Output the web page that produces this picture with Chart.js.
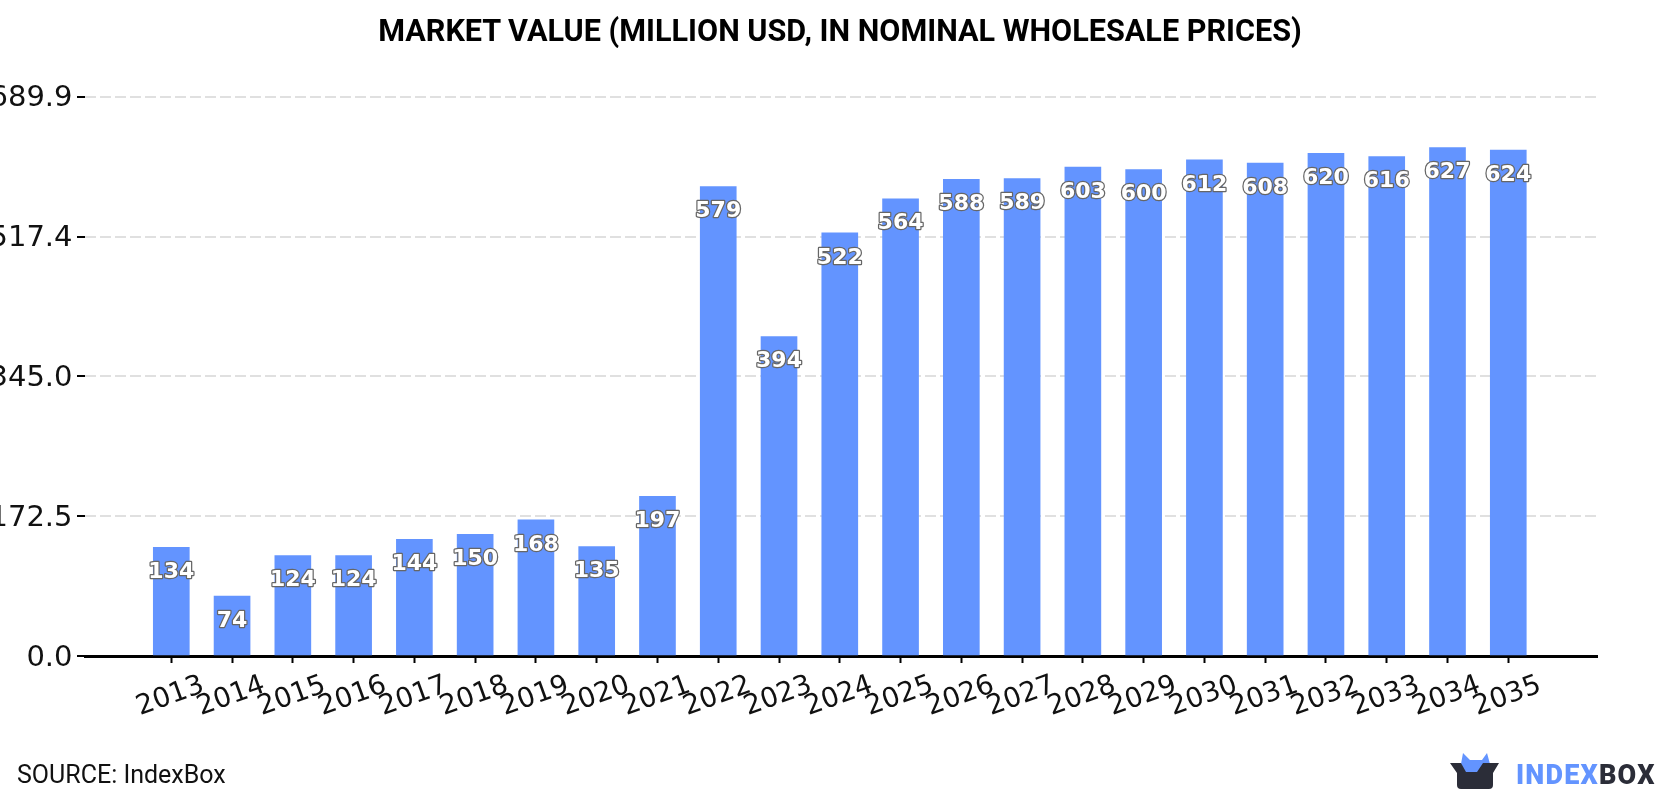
<!DOCTYPE html>
<html>
<head>
<meta charset="utf-8">
<title>Market value</title>
<script src="https://cdn.jsdelivr.net/npm/chart.js@4"></script>
<style>
    html, body { margin: 0; padding: 0; background: #fff; }
    #wrap { position: relative; width: 1680px; height: 800px; overflow: hidden; }
    #title { position: absolute; left: 0; width: 1680px; top: 13px; text-align: center; font: bold 30.6px Roboto, sans-serif; color: #000; }
    #source { position: absolute; left: 17px; top: 760px; font: 25px Roboto, sans-serif; color: #111; }
    #brand { position: absolute; left: 1449px; top: 752px; }
    #brandText { position: absolute; left: 1516px; top: 759px; font: 900 27px Roboto, sans-serif; letter-spacing: 1.2px; color: #6394ff; }
    #brandText span { color: #2b2d38; }
</style>
</head>
<body>
<div id="wrap">
    <canvas id="marketChart" width="1680" height="800"></canvas>
    <div id="title">MARKET VALUE (MILLION USD, IN NOMINAL WHOLESALE PRICES)</div>
    <div id="source">SOURCE: IndexBox</div>
    <svg id="brand" width="52" height="40" viewBox="0 0 52 40">
        <path d="M12 12 L14 1 L21 8 L33 8 L38 1 L41 12 L36 20 L16 20 Z" fill="#6394ff"/>
        <path d="M1 11 L12 11 L17 20 L28 20 L34 11 L50 11 L44 21 L44 33 Q44 37 40 37 L12 37 Q8 37 8 33 L8 21 Z" fill="#2b2d38"/>
    </svg>
    <div id="brandText">INDEX<span>BOX</span></div>
</div>
<script>
const years = [2013, 2014, 2015, 2016, 2017, 2018, 2019, 2020, 2021, 2022, 2023, 2024,
    2025, 2026, 2027, 2028, 2029, 2030, 2031, 2032, 2033, 2034, 2035];
const marketValues = [134, 74, 124, 124, 144, 150, 168, 135, 197, 579, 394, 522,
    564, 588, 589, 603, 600, 612, 608, 620, 616, 627, 624];
const yTicks = [0, 172.5, 345.0, 517.4, 689.9];

// value labels sit a little under the top of each bar
const valueLabels = {
    id: 'valueLabels',
    afterDatasetsDraw(chart) {
        const ctx = chart.ctx;
        const bars = chart.getDatasetMeta(0).data;
        ctx.save();
        ctx.font = 'bold 22px "DejaVu Sans"';
        ctx.textAlign = 'center';
        ctx.textBaseline = 'middle';
        ctx.lineJoin = 'round';
        bars.forEach((bar, i) => {
            const text = String(marketValues[i]);
            ctx.lineWidth = 2.5;
            ctx.strokeStyle = '#666';
            ctx.strokeText(text, bar.x, bar.y + 25);
            ctx.fillStyle = '#fff';
            ctx.fillText(text, bar.x, bar.y + 25);
        });
        ctx.restore();
    }
};

new Chart(document.getElementById('marketChart'), {
    type: 'bar',
    data: {
        datasets: [{
            data: years.map((y, i) => ({ x: y, y: marketValues[i] })),
            backgroundColor: '#6394ff',
            barThickness: 36
        }]
    },
    options: {
        responsive: false,
        animation: false,
        layout: { padding: { top: 96.7, right: 83 } },
        plugins: {
            legend: { display: false },
            tooltip: { enabled: false }
        },
        scales: {
            x: {
                type: 'linear',
                offset: false,
                min: 2011.58,
                max: 2036.46,
                afterBuildTicks(axis) {
                    axis.ticks = years.map(y => ({ value: y }));
                },
                afterFit(axis) {
                    axis.height = 144;
                },
                grid: {
                    offset: false,
                    drawOnChartArea: false,
                    tickLength: 7,
                    tickColor: '#000',
                    tickWidth: 2
                },
                border: { color: '#000', width: 3 },
                ticks: {
                    autoSkip: false,
                    minRotation: 20,
                    maxRotation: 20,
                    labelOffset: 32,
                    color: '#111',
                    padding: 6,
                    font: { family: 'DejaVu Sans', size: 27.5 },
                    callback: v => String(v)
                }
            },
            y: {
                min: 0,
                max: 689.9,
                afterBuildTicks(axis) {
                    axis.ticks = yTicks.map(v => ({ value: v }));
                },
                afterFit(axis) {
                    axis.width = 85;
                },
                grid: {
                    color: '#e0e0e0',
                    lineWidth: 2,
                    tickLength: 8,
                    tickColor: '#000',
                    tickWidth: 2
                },
                border: { display: false, dash: [11, 4] },
                ticks: {
                    color: '#111',
                    padding: 4.5,
                    labelOffset: 2,
                    font: { family: 'DejaVu Sans', size: 29 },
                    callback: v => v.toFixed(1)
                }
            }
        }
    },
    plugins: [valueLabels]
});
</script>
</body>
</html>
